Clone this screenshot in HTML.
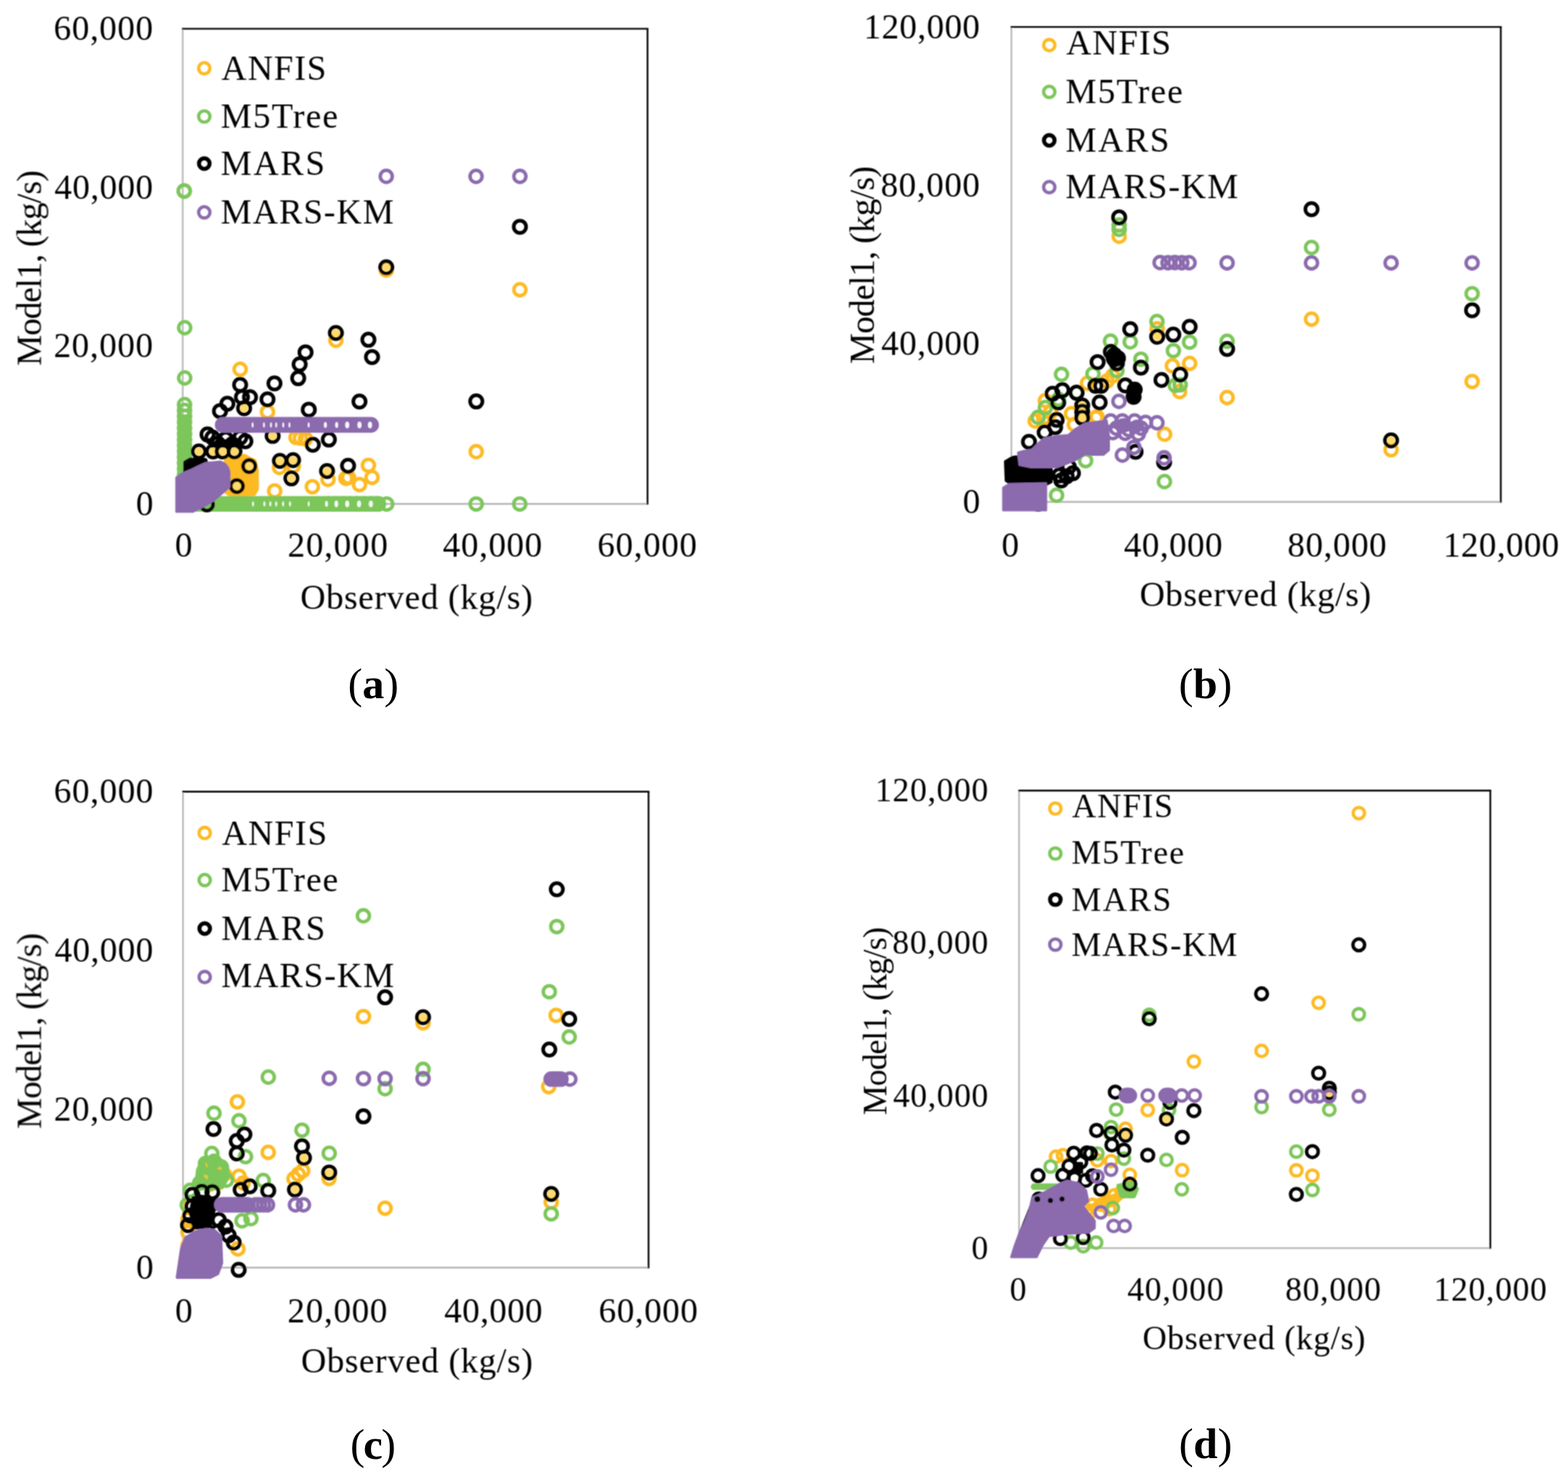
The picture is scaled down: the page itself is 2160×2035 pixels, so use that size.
<!DOCTYPE html>
<html><head><meta charset="utf-8"><title>Scatter plots</title><style>html,body{margin:0;padding:0;background:#fff;width:2160px;height:2035px;overflow:hidden}svg{display:block}</style></head><body>
<svg xmlns="http://www.w3.org/2000/svg" width="2160" height="2035" viewBox="0 0 2160 2035">
<rect width="2160" height="2035" fill="#fff"/>
<defs><filter id="soft" x="0" y="0" width="2160" height="2035" filterUnits="userSpaceOnUse"><feConvolveMatrix order="3" kernelMatrix="1 2 1 2 4 2 1 2 1" divisor="16" edgeMode="none" preserveAlpha="false"/></filter></defs>
<g font-family="Liberation Serif, Times New Roman, serif" fill="#000" filter="url(#soft)">
<line x1="251.7" y1="39.6" x2="251.7" y2="694.3" stroke="#B4B4B4" stroke-width="2.2"/>
<line x1="251.7" y1="694.3" x2="892.0" y2="694.3" stroke="#B4B4B4" stroke-width="2.4"/>
<line x1="250.7" y1="39.6" x2="893.2" y2="39.6" stroke="#000" stroke-width="2.4"/>
<line x1="892.0" y1="39.6" x2="892.0" y2="695.3" stroke="#000" stroke-width="2.4"/>
<circle cx="462.7" cy="468.8" r="8.30" fill="none" stroke="#FDBA21" stroke-width="4.80"/>
<circle cx="532.1" cy="372.0" r="8.30" fill="none" stroke="#FDBA21" stroke-width="4.80"/>
<circle cx="716.2" cy="399.2" r="8.30" fill="none" stroke="#FDBA21" stroke-width="4.80"/>
<circle cx="330.8" cy="508.8" r="8.30" fill="none" stroke="#FDBA21" stroke-width="4.80"/>
<circle cx="368.5" cy="567.4" r="8.30" fill="none" stroke="#FDBA21" stroke-width="4.80"/>
<circle cx="656.0" cy="622.3" r="8.30" fill="none" stroke="#FDBA21" stroke-width="4.80"/>
<circle cx="507.5" cy="641.1" r="8.30" fill="none" stroke="#FDBA21" stroke-width="4.80"/>
<circle cx="480.1" cy="657.7" r="8.30" fill="none" stroke="#FDBA21" stroke-width="4.80"/>
<circle cx="512.5" cy="657.7" r="8.30" fill="none" stroke="#FDBA21" stroke-width="4.80"/>
<circle cx="495.2" cy="667.7" r="8.30" fill="none" stroke="#FDBA21" stroke-width="4.80"/>
<circle cx="407.8" cy="602.6" r="8.30" fill="none" stroke="#FDBA21" stroke-width="4.80"/>
<circle cx="420.8" cy="604.6" r="8.30" fill="none" stroke="#FDBA21" stroke-width="4.80"/>
<circle cx="413.8" cy="603.6" r="8.30" fill="none" stroke="#FDBA21" stroke-width="4.80"/>
<circle cx="378.4" cy="676.4" r="8.30" fill="none" stroke="#FDBA21" stroke-width="4.80"/>
<circle cx="430.3" cy="670.6" r="8.30" fill="none" stroke="#FDBA21" stroke-width="4.80"/>
<circle cx="451.9" cy="660.5" r="8.30" fill="none" stroke="#FDBA21" stroke-width="4.80"/>
<circle cx="476.4" cy="659.0" r="8.30" fill="none" stroke="#FDBA21" stroke-width="4.80"/>
<circle cx="345.2" cy="664.9" r="8.30" fill="none" stroke="#FDBA21" stroke-width="4.80"/>
<circle cx="385.0" cy="644.0" r="8.30" fill="none" stroke="#FDBA21" stroke-width="4.80"/>
<circle cx="404.0" cy="642.0" r="8.30" fill="none" stroke="#FDBA21" stroke-width="4.80"/>
<circle cx="342.6" cy="665.2" r="8.30" fill="none" stroke="#FDBA21" stroke-width="4.80"/>
<circle cx="318.0" cy="640.0" r="8.30" fill="none" stroke="#FDBA21" stroke-width="4.80"/>
<circle cx="335.0" cy="636.0" r="8.30" fill="none" stroke="#FDBA21" stroke-width="4.80"/>
<polygon points="311,632 325,630 340,630 351,635 354,648 354,674 350,681 318,682 311,678" fill="#FDBA21" stroke="#FDBA21" stroke-width="5" stroke-linejoin="round"/>
<rect x="247.0" y="575.0" width="14" height="115.0" rx="7.0" fill="#7CC65A"/>
<rect x="262.0" y="683.5" width="270.0" height="21.6" rx="10.8" fill="#7CC65A"/>
<circle cx="254.2" cy="557.5" r="8.30" fill="none" stroke="#7CC65A" stroke-width="4.80"/>
<circle cx="254.2" cy="565.5" r="8.30" fill="none" stroke="#7CC65A" stroke-width="4.80"/>
<circle cx="254.2" cy="573.6" r="8.30" fill="none" stroke="#7CC65A" stroke-width="4.80"/>
<circle cx="254.2" cy="581.6" r="8.30" fill="none" stroke="#7CC65A" stroke-width="4.80"/>
<circle cx="254.2" cy="589.7" r="8.30" fill="none" stroke="#7CC65A" stroke-width="4.80"/>
<circle cx="254.2" cy="597.7" r="8.30" fill="none" stroke="#7CC65A" stroke-width="4.80"/>
<circle cx="254.2" cy="605.8" r="8.30" fill="none" stroke="#7CC65A" stroke-width="4.80"/>
<circle cx="254.2" cy="613.8" r="8.30" fill="none" stroke="#7CC65A" stroke-width="4.80"/>
<circle cx="254.2" cy="621.9" r="8.30" fill="none" stroke="#7CC65A" stroke-width="4.80"/>
<circle cx="254.2" cy="629.9" r="8.30" fill="none" stroke="#7CC65A" stroke-width="4.80"/>
<circle cx="254.2" cy="638.0" r="8.30" fill="none" stroke="#7CC65A" stroke-width="4.80"/>
<circle cx="254.2" cy="646.0" r="8.30" fill="none" stroke="#7CC65A" stroke-width="4.80"/>
<circle cx="254.2" cy="654.1" r="8.30" fill="none" stroke="#7CC65A" stroke-width="4.80"/>
<circle cx="254.2" cy="662.1" r="8.30" fill="none" stroke="#7CC65A" stroke-width="4.80"/>
<circle cx="254.2" cy="670.2" r="8.30" fill="none" stroke="#7CC65A" stroke-width="4.80"/>
<circle cx="254.2" cy="678.2" r="8.30" fill="none" stroke="#7CC65A" stroke-width="4.80"/>
<circle cx="254.2" cy="686.3" r="8.30" fill="none" stroke="#7CC65A" stroke-width="4.80"/>
<circle cx="254.2" cy="694.3" r="8.30" fill="none" stroke="#7CC65A" stroke-width="4.80"/>
<circle cx="452.5" cy="694.3" r="8.30" fill="none" stroke="#7CC65A" stroke-width="4.80"/>
<circle cx="462.3" cy="694.3" r="8.30" fill="none" stroke="#7CC65A" stroke-width="4.80"/>
<circle cx="472.1" cy="694.3" r="8.30" fill="none" stroke="#7CC65A" stroke-width="4.80"/>
<circle cx="481.9" cy="694.3" r="8.30" fill="none" stroke="#7CC65A" stroke-width="4.80"/>
<circle cx="491.6" cy="694.3" r="8.30" fill="none" stroke="#7CC65A" stroke-width="4.80"/>
<circle cx="501.4" cy="694.3" r="8.30" fill="none" stroke="#7CC65A" stroke-width="4.80"/>
<circle cx="511.2" cy="694.3" r="8.30" fill="none" stroke="#7CC65A" stroke-width="4.80"/>
<circle cx="521.0" cy="694.3" r="8.30" fill="none" stroke="#7CC65A" stroke-width="4.80"/>
<circle cx="254.4" cy="451.5" r="8.30" fill="none" stroke="#7CC65A" stroke-width="4.80"/>
<circle cx="254.4" cy="520.7" r="8.30" fill="none" stroke="#7CC65A" stroke-width="4.80"/>
<circle cx="253.8" cy="262.9" r="8.30" fill="none" stroke="#7CC65A" stroke-width="4.80"/>
<circle cx="253.8" cy="263.5" r="8.30" fill="none" stroke="#7CC65A" stroke-width="4.80"/>
<circle cx="656.0" cy="694.4" r="8.30" fill="none" stroke="#7CC65A" stroke-width="4.80"/>
<circle cx="716.0" cy="694.4" r="8.30" fill="none" stroke="#7CC65A" stroke-width="4.80"/>
<circle cx="532.7" cy="694.4" r="8.30" fill="none" stroke="#7CC65A" stroke-width="4.80"/>
<polygon points="255,637 262,633 283,633.5 285,640 272,646 262,651 255,652" fill="#000000" stroke="#000000" stroke-width="5" stroke-linejoin="round"/>
<polygon points="300,608 330,606 334,614 300,616" fill="#000000" stroke="#000000" stroke-width="4" stroke-linejoin="round"/>
<circle cx="716.2" cy="312.4" r="8.50" fill="none" stroke="#000000" stroke-width="5.00"/>
<circle cx="420.9" cy="485.4" r="8.50" fill="none" stroke="#000000" stroke-width="5.00"/>
<circle cx="412.8" cy="502.0" r="8.50" fill="none" stroke="#000000" stroke-width="5.00"/>
<circle cx="410.8" cy="521.1" r="8.50" fill="none" stroke="#000000" stroke-width="5.00"/>
<circle cx="378.1" cy="528.2" r="8.50" fill="none" stroke="#000000" stroke-width="5.00"/>
<circle cx="330.8" cy="530.2" r="8.50" fill="none" stroke="#000000" stroke-width="5.00"/>
<circle cx="333.3" cy="547.3" r="8.50" fill="none" stroke="#000000" stroke-width="5.00"/>
<circle cx="344.4" cy="547.3" r="8.50" fill="none" stroke="#000000" stroke-width="5.00"/>
<circle cx="368.5" cy="550.3" r="8.50" fill="none" stroke="#000000" stroke-width="5.00"/>
<circle cx="313.2" cy="556.3" r="8.50" fill="none" stroke="#000000" stroke-width="5.00"/>
<circle cx="303.1" cy="566.4" r="8.50" fill="none" stroke="#000000" stroke-width="5.00"/>
<circle cx="425.4" cy="564.4" r="8.50" fill="none" stroke="#000000" stroke-width="5.00"/>
<circle cx="507.5" cy="468.1" r="8.50" fill="none" stroke="#000000" stroke-width="5.00"/>
<circle cx="512.5" cy="491.9" r="8.50" fill="none" stroke="#000000" stroke-width="5.00"/>
<circle cx="495.2" cy="553.2" r="8.50" fill="none" stroke="#000000" stroke-width="5.00"/>
<circle cx="656.1" cy="553.1" r="8.50" fill="none" stroke="#000000" stroke-width="5.00"/>
<circle cx="479.5" cy="641.8" r="8.50" fill="none" stroke="#000000" stroke-width="5.00"/>
<circle cx="430.9" cy="612.7" r="8.50" fill="none" stroke="#000000" stroke-width="5.00"/>
<circle cx="453.0" cy="605.6" r="8.50" fill="none" stroke="#000000" stroke-width="5.00"/>
<circle cx="285.9" cy="598.6" r="8.50" fill="none" stroke="#000000" stroke-width="5.00"/>
<circle cx="292.6" cy="602.7" r="8.50" fill="none" stroke="#000000" stroke-width="5.00"/>
<circle cx="311.0" cy="604.4" r="8.50" fill="none" stroke="#000000" stroke-width="5.00"/>
<circle cx="331.0" cy="602.7" r="8.50" fill="none" stroke="#000000" stroke-width="5.00"/>
<circle cx="338.0" cy="608.0" r="8.50" fill="none" stroke="#000000" stroke-width="5.00"/>
<circle cx="300.0" cy="611.0" r="8.50" fill="none" stroke="#000000" stroke-width="5.00"/>
<circle cx="320.0" cy="612.0" r="8.50" fill="none" stroke="#000000" stroke-width="5.00"/>
<circle cx="285.0" cy="695.0" r="8.50" fill="none" stroke="#000000" stroke-width="5.00"/>
<circle cx="254.0" cy="668.0" r="8.50" fill="none" stroke="#000000" stroke-width="5.00"/>
<circle cx="462.7" cy="458.7" r="5.5" fill="#FFDA6A"/>
<circle cx="462.7" cy="458.7" r="8.50" fill="none" stroke="#000000" stroke-width="5.00"/>
<circle cx="532.1" cy="368.3" r="5.5" fill="#FFDA6A"/>
<circle cx="532.1" cy="368.3" r="8.50" fill="none" stroke="#000000" stroke-width="5.00"/>
<circle cx="336.3" cy="562.4" r="5.5" fill="#FFDA6A"/>
<circle cx="336.3" cy="562.4" r="8.50" fill="none" stroke="#000000" stroke-width="5.00"/>
<circle cx="375.6" cy="600.6" r="5.5" fill="#FFDA6A"/>
<circle cx="375.6" cy="600.6" r="8.50" fill="none" stroke="#000000" stroke-width="5.00"/>
<circle cx="385.6" cy="635.0" r="5.5" fill="#FFDA6A"/>
<circle cx="385.6" cy="635.0" r="8.50" fill="none" stroke="#000000" stroke-width="5.00"/>
<circle cx="403.7" cy="634.0" r="5.5" fill="#FFDA6A"/>
<circle cx="403.7" cy="634.0" r="8.50" fill="none" stroke="#000000" stroke-width="5.00"/>
<circle cx="401.4" cy="659.1" r="5.5" fill="#FFDA6A"/>
<circle cx="401.4" cy="659.1" r="8.50" fill="none" stroke="#000000" stroke-width="5.00"/>
<circle cx="450.5" cy="649.0" r="5.5" fill="#FFDA6A"/>
<circle cx="450.5" cy="649.0" r="8.50" fill="none" stroke="#000000" stroke-width="5.00"/>
<circle cx="343.3" cy="642.3" r="5.5" fill="#FFDA6A"/>
<circle cx="343.3" cy="642.3" r="8.50" fill="none" stroke="#000000" stroke-width="5.00"/>
<circle cx="326.3" cy="669.8" r="5.5" fill="#FFDA6A"/>
<circle cx="326.3" cy="669.8" r="8.50" fill="none" stroke="#000000" stroke-width="5.00"/>
<circle cx="274.0" cy="622.0" r="5.5" fill="#FFDA6A"/>
<circle cx="274.0" cy="622.0" r="8.50" fill="none" stroke="#000000" stroke-width="5.00"/>
<circle cx="293.6" cy="622.0" r="5.5" fill="#FFDA6A"/>
<circle cx="293.6" cy="622.0" r="8.50" fill="none" stroke="#000000" stroke-width="5.00"/>
<circle cx="306.7" cy="622.0" r="5.5" fill="#FFDA6A"/>
<circle cx="306.7" cy="622.0" r="8.50" fill="none" stroke="#000000" stroke-width="5.00"/>
<circle cx="323.0" cy="622.0" r="5.5" fill="#FFDA6A"/>
<circle cx="323.0" cy="622.0" r="8.50" fill="none" stroke="#000000" stroke-width="5.00"/>
<rect x="296.0" y="574.6" width="226.0" height="21.6" rx="10.8" fill="#8B6BAE"/>
<polygon points="243,705 243,658 250,653 262,648 272,643 283,638 304,636 310,639 314,644 316,650 316,671 310,676 295,689 286,695 276,700 266,705" fill="#8B6BAE" stroke="#8B6BAE" stroke-width="3" stroke-linejoin="round"/>
<circle cx="532.1" cy="243.0" r="8.30" fill="none" stroke="#8B6BAE" stroke-width="4.80"/>
<circle cx="655.8" cy="243.0" r="8.30" fill="none" stroke="#8B6BAE" stroke-width="4.80"/>
<circle cx="716.2" cy="243.0" r="8.30" fill="none" stroke="#8B6BAE" stroke-width="4.80"/>
<ellipse cx="348" cy="585.4" rx="1.2" ry="3.5" fill="#fbf6ff"/>
<ellipse cx="363.6" cy="585.4" rx="1.2" ry="3.5" fill="#fbf6ff"/>
<ellipse cx="373.3" cy="585.4" rx="1.2" ry="3.5" fill="#fbf6ff"/>
<ellipse cx="380.5" cy="585.4" rx="1.2" ry="3.5" fill="#fbf6ff"/>
<ellipse cx="390.2" cy="585.4" rx="1.2" ry="3.5" fill="#fbf6ff"/>
<ellipse cx="398.7" cy="585.4" rx="1.2" ry="3.5" fill="#fbf6ff"/>
<ellipse cx="425.2" cy="585.4" rx="1.2" ry="3.5" fill="#fbf6ff"/>
<ellipse cx="448.2" cy="585.4" rx="2" ry="4" fill="#fbf6ff"/>
<ellipse cx="463.8" cy="585.4" rx="2" ry="4" fill="#fbf6ff"/>
<ellipse cx="478.3" cy="585.4" rx="2.8" ry="4.5" fill="#fbf6ff"/>
<ellipse cx="495.2" cy="585.4" rx="2.8" ry="4.5" fill="#fbf6ff"/>
<ellipse cx="509.7" cy="585.4" rx="2.8" ry="4.5" fill="#fbf6ff"/>
<ellipse cx="348.6" cy="694.3" rx="1.3" ry="3.5" fill="#f4faf0"/>
<ellipse cx="364.2" cy="694.3" rx="1.3" ry="3.5" fill="#f4faf0"/>
<ellipse cx="372.4" cy="694.3" rx="1.3" ry="3.5" fill="#f4faf0"/>
<ellipse cx="380.5" cy="694.3" rx="1.3" ry="3.5" fill="#f4faf0"/>
<ellipse cx="390" cy="694.3" rx="1.3" ry="3.5" fill="#f4faf0"/>
<ellipse cx="399.5" cy="694.3" rx="1.3" ry="3.5" fill="#f4faf0"/>
<ellipse cx="425.3" cy="694.3" rx="1.3" ry="3.5" fill="#f4faf0"/>
<ellipse cx="449.8" cy="694.3" rx="2" ry="4" fill="#f4faf0"/>
<ellipse cx="463.3" cy="694.3" rx="2.5" ry="4.5" fill="#f4faf0"/>
<ellipse cx="478.3" cy="694.3" rx="2.8" ry="4.5" fill="#f4faf0"/>
<ellipse cx="494.6" cy="694.3" rx="2.8" ry="4.5" fill="#f4faf0"/>
<ellipse cx="510.9" cy="694.3" rx="2.8" ry="4.5" fill="#f4faf0"/>
<text x="187.17" y="710.00" font-size="48" letter-spacing="0.000">0</text>
<text x="73.89" y="491.77" font-size="48" letter-spacing="0.988">20,000</text>
<text x="75.06" y="273.53" font-size="48" letter-spacing="0.753">40,000</text>
<text x="73.94" y="55.30" font-size="48" letter-spacing="0.978">60,000</text>
<text x="241.07" y="767.30" font-size="48" letter-spacing="0.000">0</text>
<text x="396.19" y="767.30" font-size="48" letter-spacing="1.188">20,000</text>
<text x="610.06" y="767.30" font-size="48" letter-spacing="0.953">40,000</text>
<text x="823.04" y="767.30" font-size="48" letter-spacing="0.978">60,000</text>
<text x="413.63" y="839.20" font-size="48" letter-spacing="0.868">Observed (kg/s)</text>
<text transform="translate(56.50,503.98) rotate(-90)" x="0" y="0" font-size="48" letter-spacing="-1.224">Model1, (kg/s)</text>
<circle cx="281.4" cy="94.1" r="7.80" fill="none" stroke="#FDBA21" stroke-width="4.60"/>
<text x="305.03" y="110.00" font-size="48" letter-spacing="1.461">ANFIS</text>
<circle cx="281.4" cy="160.5" r="7.80" fill="none" stroke="#7CC65A" stroke-width="4.60"/>
<text x="304.12" y="176.40" font-size="48" letter-spacing="1.691">M5Tree</text>
<circle cx="281.4" cy="225.4" r="7.30" fill="none" stroke="#000000" stroke-width="5.60"/>
<text x="304.12" y="241.30" font-size="48" letter-spacing="2.402">MARS</text>
<circle cx="281.4" cy="292.6" r="7.80" fill="none" stroke="#8B6BAE" stroke-width="4.60"/>
<text x="304.12" y="308.40" font-size="48" letter-spacing="1.484">MARS-KM</text>
<line x1="1393.2" y1="37.1" x2="1393.2" y2="691.5" stroke="#B4B4B4" stroke-width="2.2"/>
<line x1="1393.2" y1="691.5" x2="2067.4" y2="691.5" stroke="#B4B4B4" stroke-width="2.4"/>
<line x1="1392.2" y1="37.1" x2="2068.6" y2="37.1" stroke="#000" stroke-width="2.4"/>
<line x1="2067.4" y1="37.1" x2="2067.4" y2="692.5" stroke="#000" stroke-width="2.4"/>
<circle cx="1541.7" cy="325.5" r="8.30" fill="none" stroke="#FDBA21" stroke-width="4.80"/>
<circle cx="1806.7" cy="439.7" r="8.30" fill="none" stroke="#FDBA21" stroke-width="4.80"/>
<circle cx="2027.9" cy="525.6" r="8.30" fill="none" stroke="#FDBA21" stroke-width="4.80"/>
<circle cx="1916.3" cy="619.6" r="8.30" fill="none" stroke="#FDBA21" stroke-width="4.80"/>
<circle cx="1638.8" cy="500.7" r="8.30" fill="none" stroke="#FDBA21" stroke-width="4.80"/>
<circle cx="1615.0" cy="504.0" r="8.30" fill="none" stroke="#FDBA21" stroke-width="4.80"/>
<circle cx="1625.0" cy="539.5" r="8.30" fill="none" stroke="#FDBA21" stroke-width="4.80"/>
<circle cx="1690.4" cy="547.7" r="8.30" fill="none" stroke="#FDBA21" stroke-width="4.80"/>
<circle cx="1604.3" cy="598.3" r="8.30" fill="none" stroke="#FDBA21" stroke-width="4.80"/>
<circle cx="1476.0" cy="570.0" r="8.30" fill="none" stroke="#FDBA21" stroke-width="4.80"/>
<circle cx="1511.3" cy="574.2" r="8.30" fill="none" stroke="#FDBA21" stroke-width="4.80"/>
<circle cx="1439.4" cy="575.6" r="8.30" fill="none" stroke="#FDBA21" stroke-width="4.80"/>
<circle cx="1509.7" cy="575.6" r="8.30" fill="none" stroke="#FDBA21" stroke-width="4.80"/>
<circle cx="1532.8" cy="517.9" r="8.30" fill="none" stroke="#FDBA21" stroke-width="4.80"/>
<circle cx="1437.7" cy="575.6" r="8.30" fill="none" stroke="#FDBA21" stroke-width="4.80"/>
<circle cx="1594.1" cy="453.0" r="8.30" fill="none" stroke="#FDBA21" stroke-width="4.80"/>
<circle cx="1440.0" cy="552.0" r="8.30" fill="none" stroke="#FDBA21" stroke-width="4.80"/>
<circle cx="1447.0" cy="568.0" r="8.30" fill="none" stroke="#FDBA21" stroke-width="4.80"/>
<circle cx="1426.0" cy="580.0" r="8.30" fill="none" stroke="#FDBA21" stroke-width="4.80"/>
<circle cx="1498.0" cy="528.0" r="8.30" fill="none" stroke="#FDBA21" stroke-width="4.80"/>
<circle cx="1525.0" cy="525.0" r="8.30" fill="none" stroke="#FDBA21" stroke-width="4.80"/>
<circle cx="1480.0" cy="585.0" r="8.30" fill="none" stroke="#FDBA21" stroke-width="4.80"/>
<circle cx="1541.7" cy="310.0" r="8.30" fill="none" stroke="#7CC65A" stroke-width="4.80"/>
<circle cx="1541.7" cy="316.0" r="8.30" fill="none" stroke="#7CC65A" stroke-width="4.80"/>
<circle cx="1806.7" cy="341.0" r="8.30" fill="none" stroke="#7CC65A" stroke-width="4.80"/>
<circle cx="2027.9" cy="404.6" r="8.30" fill="none" stroke="#7CC65A" stroke-width="4.80"/>
<circle cx="1593.8" cy="443.0" r="8.30" fill="none" stroke="#7CC65A" stroke-width="4.80"/>
<circle cx="1529.8" cy="470.0" r="8.30" fill="none" stroke="#7CC65A" stroke-width="4.80"/>
<circle cx="1557.0" cy="471.0" r="8.30" fill="none" stroke="#7CC65A" stroke-width="4.80"/>
<circle cx="1638.8" cy="471.4" r="8.30" fill="none" stroke="#7CC65A" stroke-width="4.80"/>
<circle cx="1616.4" cy="483.1" r="8.30" fill="none" stroke="#7CC65A" stroke-width="4.80"/>
<circle cx="1690.4" cy="470.2" r="8.30" fill="none" stroke="#7CC65A" stroke-width="4.80"/>
<circle cx="1625.8" cy="530.1" r="8.30" fill="none" stroke="#7CC65A" stroke-width="4.80"/>
<circle cx="1571.7" cy="494.9" r="8.30" fill="none" stroke="#7CC65A" stroke-width="4.80"/>
<circle cx="1538.6" cy="510.7" r="8.30" fill="none" stroke="#7CC65A" stroke-width="4.80"/>
<circle cx="1462.3" cy="515.8" r="8.30" fill="none" stroke="#7CC65A" stroke-width="4.80"/>
<circle cx="1505.6" cy="515.1" r="8.30" fill="none" stroke="#7CC65A" stroke-width="4.80"/>
<circle cx="1440.1" cy="561.5" r="8.30" fill="none" stroke="#7CC65A" stroke-width="4.80"/>
<circle cx="1495.5" cy="634.6" r="8.30" fill="none" stroke="#7CC65A" stroke-width="4.80"/>
<circle cx="1455.5" cy="682.3" r="8.30" fill="none" stroke="#7CC65A" stroke-width="4.80"/>
<circle cx="1604.1" cy="663.5" r="8.30" fill="none" stroke="#7CC65A" stroke-width="4.80"/>
<circle cx="1458.0" cy="550.0" r="8.30" fill="none" stroke="#7CC65A" stroke-width="4.80"/>
<circle cx="1483.0" cy="541.0" r="8.30" fill="none" stroke="#7CC65A" stroke-width="4.80"/>
<circle cx="1430.0" cy="575.0" r="8.30" fill="none" stroke="#7CC65A" stroke-width="4.80"/>
<circle cx="1619.0" cy="531.0" r="8.30" fill="none" stroke="#7CC65A" stroke-width="4.80"/>
<polygon points="1385,636 1395,630 1405,629 1420,632 1440,640 1448,645 1448,664 1440,668 1420,667 1395,668 1386,662" fill="#000000" stroke="#000000" stroke-width="4" stroke-linejoin="round"/>
<ellipse cx="1535" cy="492" rx="12" ry="14" fill="#000000"/>
<ellipse cx="1562" cy="542" rx="10" ry="14" fill="#000000"/>
<circle cx="1541.7" cy="299.4" r="8.50" fill="none" stroke="#000000" stroke-width="5.00"/>
<circle cx="1806.7" cy="288.2" r="8.50" fill="none" stroke="#000000" stroke-width="5.00"/>
<circle cx="2027.9" cy="427.4" r="8.50" fill="none" stroke="#000000" stroke-width="5.00"/>
<circle cx="1557.0" cy="453.6" r="8.50" fill="none" stroke="#000000" stroke-width="5.00"/>
<circle cx="1616.3" cy="461.1" r="8.50" fill="none" stroke="#000000" stroke-width="5.00"/>
<circle cx="1638.8" cy="450.2" r="8.50" fill="none" stroke="#000000" stroke-width="5.00"/>
<circle cx="1625.8" cy="516.0" r="8.50" fill="none" stroke="#000000" stroke-width="5.00"/>
<circle cx="1600.0" cy="523.5" r="8.50" fill="none" stroke="#000000" stroke-width="5.00"/>
<circle cx="1512.0" cy="498.9" r="8.50" fill="none" stroke="#000000" stroke-width="5.00"/>
<circle cx="1530.3" cy="484.8" r="8.50" fill="none" stroke="#000000" stroke-width="5.00"/>
<circle cx="1540.0" cy="493.4" r="8.50" fill="none" stroke="#000000" stroke-width="5.00"/>
<circle cx="1538.6" cy="500.6" r="8.50" fill="none" stroke="#000000" stroke-width="5.00"/>
<circle cx="1571.7" cy="506.4" r="8.50" fill="none" stroke="#000000" stroke-width="5.00"/>
<circle cx="1509.0" cy="531.5" r="8.50" fill="none" stroke="#000000" stroke-width="5.00"/>
<circle cx="1517.0" cy="531.5" r="8.50" fill="none" stroke="#000000" stroke-width="5.00"/>
<circle cx="1514.8" cy="554.5" r="8.50" fill="none" stroke="#000000" stroke-width="5.00"/>
<circle cx="1450.0" cy="542.5" r="8.50" fill="none" stroke="#000000" stroke-width="5.00"/>
<circle cx="1463.4" cy="537.6" r="8.50" fill="none" stroke="#000000" stroke-width="5.00"/>
<circle cx="1483.1" cy="541.1" r="8.50" fill="none" stroke="#000000" stroke-width="5.00"/>
<circle cx="1457.7" cy="554.5" r="8.50" fill="none" stroke="#000000" stroke-width="5.00"/>
<circle cx="1455.6" cy="578.5" r="8.50" fill="none" stroke="#000000" stroke-width="5.00"/>
<circle cx="1550.1" cy="530.9" r="8.50" fill="none" stroke="#000000" stroke-width="5.00"/>
<circle cx="1563.1" cy="536.7" r="8.50" fill="none" stroke="#000000" stroke-width="5.00"/>
<circle cx="1561.6" cy="546.8" r="8.50" fill="none" stroke="#000000" stroke-width="5.00"/>
<circle cx="1453.5" cy="588.6" r="8.50" fill="none" stroke="#000000" stroke-width="5.00"/>
<circle cx="1439.1" cy="595.8" r="8.50" fill="none" stroke="#000000" stroke-width="5.00"/>
<circle cx="1417.5" cy="608.7" r="8.50" fill="none" stroke="#000000" stroke-width="5.00"/>
<circle cx="1564.3" cy="622.5" r="8.50" fill="none" stroke="#000000" stroke-width="5.00"/>
<circle cx="1472.3" cy="643.3" r="8.50" fill="none" stroke="#000000" stroke-width="5.00"/>
<circle cx="1459.3" cy="654.9" r="8.50" fill="none" stroke="#000000" stroke-width="5.00"/>
<circle cx="1469.4" cy="656.3" r="8.50" fill="none" stroke="#000000" stroke-width="5.00"/>
<circle cx="1690.4" cy="480.8" r="8.50" fill="none" stroke="#000000" stroke-width="5.00"/>
<circle cx="1455.0" cy="648.0" r="8.50" fill="none" stroke="#000000" stroke-width="5.00"/>
<circle cx="1478.0" cy="652.0" r="8.50" fill="none" stroke="#000000" stroke-width="5.00"/>
<circle cx="1462.0" cy="662.0" r="8.50" fill="none" stroke="#000000" stroke-width="5.00"/>
<circle cx="1430.0" cy="694.0" r="8.50" fill="none" stroke="#000000" stroke-width="5.00"/>
<circle cx="1603.6" cy="637.0" r="8.50" fill="none" stroke="#000000" stroke-width="5.00"/>
<circle cx="1594.1" cy="463.9" r="5.5" fill="#FFDA6A"/>
<circle cx="1594.1" cy="463.9" r="8.50" fill="none" stroke="#000000" stroke-width="5.00"/>
<circle cx="1916.3" cy="606.7" r="5.5" fill="#FFDA6A"/>
<circle cx="1916.3" cy="606.7" r="8.50" fill="none" stroke="#000000" stroke-width="5.00"/>
<circle cx="1490.8" cy="558.7" r="5.5" fill="#FFDA6A"/>
<circle cx="1490.8" cy="558.7" r="8.50" fill="none" stroke="#000000" stroke-width="5.00"/>
<circle cx="1490.8" cy="567.2" r="5.5" fill="#FFDA6A"/>
<circle cx="1490.8" cy="567.2" r="8.50" fill="none" stroke="#000000" stroke-width="5.00"/>
<circle cx="1490.8" cy="575.6" r="5.5" fill="#FFDA6A"/>
<circle cx="1490.8" cy="575.6" r="8.50" fill="none" stroke="#000000" stroke-width="5.00"/>
<polygon points="1382,703 1382,672 1390,667 1441,666 1441,703" fill="#8B6BAE" stroke="#8B6BAE" stroke-width="3" stroke-linejoin="round"/>
<polygon points="1403,624 1410,622 1422,620 1430,612 1438,605 1447,603 1460,601 1472,600 1481,592 1495,584 1510,582 1524,580 1527,600 1527,620 1520,626 1505,626 1495,625 1482,633 1470,638 1455,643 1420,643 1405,640" fill="#8B6BAE" stroke="#8B6BAE" stroke-width="4" stroke-linejoin="round"/>
<ellipse cx="1504" cy="603" rx="23" ry="22" fill="#8B6BAE"/>
<ellipse cx="1548" cy="586" rx="12" ry="10" fill="#8B6BAE"/>
<ellipse cx="1566" cy="587" rx="10" ry="9" fill="#8B6BAE"/>
<circle cx="1530.0" cy="580.0" r="8.30" fill="none" stroke="#8B6BAE" stroke-width="4.80"/>
<circle cx="1538.0" cy="590.0" r="8.30" fill="none" stroke="#8B6BAE" stroke-width="4.80"/>
<circle cx="1546.0" cy="580.0" r="8.30" fill="none" stroke="#8B6BAE" stroke-width="4.80"/>
<circle cx="1555.0" cy="592.0" r="8.30" fill="none" stroke="#8B6BAE" stroke-width="4.80"/>
<circle cx="1563.0" cy="580.0" r="8.30" fill="none" stroke="#8B6BAE" stroke-width="4.80"/>
<circle cx="1572.0" cy="590.0" r="8.30" fill="none" stroke="#8B6BAE" stroke-width="4.80"/>
<circle cx="1578.0" cy="582.0" r="8.30" fill="none" stroke="#8B6BAE" stroke-width="4.80"/>
<circle cx="1533.0" cy="596.0" r="8.30" fill="none" stroke="#8B6BAE" stroke-width="4.80"/>
<circle cx="1550.0" cy="597.0" r="8.30" fill="none" stroke="#8B6BAE" stroke-width="4.80"/>
<circle cx="1568.0" cy="598.0" r="8.30" fill="none" stroke="#8B6BAE" stroke-width="4.80"/>
<circle cx="1598.1" cy="361.8" r="8.30" fill="none" stroke="#8B6BAE" stroke-width="4.80"/>
<circle cx="1609.0" cy="362.0" r="8.30" fill="none" stroke="#8B6BAE" stroke-width="4.80"/>
<circle cx="1618.4" cy="361.8" r="8.30" fill="none" stroke="#8B6BAE" stroke-width="4.80"/>
<circle cx="1628.0" cy="362.0" r="8.30" fill="none" stroke="#8B6BAE" stroke-width="4.80"/>
<circle cx="1638.0" cy="362.0" r="8.30" fill="none" stroke="#8B6BAE" stroke-width="4.80"/>
<circle cx="1690.4" cy="362.2" r="8.30" fill="none" stroke="#8B6BAE" stroke-width="4.80"/>
<circle cx="1806.7" cy="362.2" r="8.30" fill="none" stroke="#8B6BAE" stroke-width="4.80"/>
<circle cx="1916.3" cy="362.2" r="8.30" fill="none" stroke="#8B6BAE" stroke-width="4.80"/>
<circle cx="2027.9" cy="362.2" r="8.30" fill="none" stroke="#8B6BAE" stroke-width="4.80"/>
<circle cx="1541.4" cy="553.0" r="8.30" fill="none" stroke="#8B6BAE" stroke-width="4.80"/>
<circle cx="1593.8" cy="582.5" r="8.30" fill="none" stroke="#8B6BAE" stroke-width="4.80"/>
<circle cx="1546.2" cy="627.0" r="8.30" fill="none" stroke="#8B6BAE" stroke-width="4.80"/>
<circle cx="1603.6" cy="630.8" r="8.30" fill="none" stroke="#8B6BAE" stroke-width="4.80"/>
<circle cx="1562.0" cy="616.4" r="8.30" fill="none" stroke="#8B6BAE" stroke-width="4.80"/>
<text x="1326.17" y="707.20" font-size="48" letter-spacing="0.000">0</text>
<text x="1214.06" y="489.07" font-size="48" letter-spacing="0.753">40,000</text>
<text x="1213.17" y="270.93" font-size="48" letter-spacing="0.931">80,000</text>
<text x="1189.78" y="52.80" font-size="48" letter-spacing="0.674">120,000</text>
<text x="1379.67" y="767.00" font-size="48" letter-spacing="0.000">0</text>
<text x="1548.36" y="767.00" font-size="48" letter-spacing="0.753">40,000</text>
<text x="1773.47" y="767.00" font-size="48" letter-spacing="0.931">80,000</text>
<text x="1987.93" y="767.00" font-size="48" letter-spacing="0.658">120,000</text>
<text x="1569.93" y="835.10" font-size="48" letter-spacing="0.783">Observed (kg/s)</text>
<text transform="translate(1203.80,501.38) rotate(-90)" x="0" y="0" font-size="48" letter-spacing="-0.970">Model1, (kg/s)</text>
<circle cx="1445.4" cy="62.2" r="7.80" fill="none" stroke="#FDBA21" stroke-width="4.60"/>
<text x="1468.73" y="75.10" font-size="48" letter-spacing="1.411">ANFIS</text>
<circle cx="1445.4" cy="126.6" r="7.80" fill="none" stroke="#7CC65A" stroke-width="4.60"/>
<text x="1467.82" y="141.90" font-size="48" letter-spacing="1.731">M5Tree</text>
<circle cx="1445.4" cy="193.4" r="7.30" fill="none" stroke="#000000" stroke-width="5.60"/>
<text x="1467.82" y="208.70" font-size="48" letter-spacing="2.235">MARS</text>
<circle cx="1445.4" cy="257.8" r="7.80" fill="none" stroke="#8B6BAE" stroke-width="4.60"/>
<text x="1467.82" y="273.10" font-size="48" letter-spacing="1.401">MARS-KM</text>
<line x1="252.1" y1="1090.7" x2="252.1" y2="1746.5" stroke="#B4B4B4" stroke-width="2.2"/>
<line x1="252.1" y1="1746.5" x2="893.4" y2="1746.5" stroke="#B4B4B4" stroke-width="2.4"/>
<line x1="251.1" y1="1090.7" x2="894.6" y2="1090.7" stroke="#000" stroke-width="2.4"/>
<line x1="893.4" y1="1090.7" x2="893.4" y2="1747.5" stroke="#000" stroke-width="2.4"/>
<circle cx="327.0" cy="1518.1" r="8.30" fill="none" stroke="#FDBA21" stroke-width="4.80"/>
<circle cx="369.5" cy="1587.7" r="8.30" fill="none" stroke="#FDBA21" stroke-width="4.80"/>
<circle cx="329.2" cy="1620.6" r="8.30" fill="none" stroke="#FDBA21" stroke-width="4.80"/>
<circle cx="417.0" cy="1613.0" r="8.30" fill="none" stroke="#FDBA21" stroke-width="4.80"/>
<circle cx="405.0" cy="1624.0" r="8.30" fill="none" stroke="#FDBA21" stroke-width="4.80"/>
<circle cx="411.0" cy="1618.0" r="8.30" fill="none" stroke="#FDBA21" stroke-width="4.80"/>
<circle cx="453.3" cy="1623.6" r="8.30" fill="none" stroke="#FDBA21" stroke-width="4.80"/>
<circle cx="500.7" cy="1400.6" r="8.30" fill="none" stroke="#FDBA21" stroke-width="4.80"/>
<circle cx="582.8" cy="1409.2" r="8.30" fill="none" stroke="#FDBA21" stroke-width="4.80"/>
<circle cx="766.1" cy="1398.9" r="8.30" fill="none" stroke="#FDBA21" stroke-width="4.80"/>
<circle cx="530.5" cy="1664.7" r="8.30" fill="none" stroke="#FDBA21" stroke-width="4.80"/>
<circle cx="759.3" cy="1656.2" r="8.30" fill="none" stroke="#FDBA21" stroke-width="4.80"/>
<circle cx="755.9" cy="1497.1" r="8.30" fill="none" stroke="#FDBA21" stroke-width="4.80"/>
<circle cx="327.7" cy="1720.7" r="8.30" fill="none" stroke="#FDBA21" stroke-width="4.80"/>
<circle cx="259.0" cy="1662.0" r="8.30" fill="none" stroke="#FDBA21" stroke-width="4.80"/>
<circle cx="259.0" cy="1680.0" r="8.30" fill="none" stroke="#FDBA21" stroke-width="4.80"/>
<circle cx="259.0" cy="1698.0" r="8.30" fill="none" stroke="#FDBA21" stroke-width="4.80"/>
<circle cx="259.0" cy="1716.0" r="8.30" fill="none" stroke="#FDBA21" stroke-width="4.80"/>
<circle cx="258.0" cy="1734.0" r="8.30" fill="none" stroke="#FDBA21" stroke-width="4.80"/>
<circle cx="257.0" cy="1750.0" r="8.30" fill="none" stroke="#FDBA21" stroke-width="4.80"/>
<circle cx="282.0" cy="1614.0" r="8.30" fill="none" stroke="#FDBA21" stroke-width="4.80"/>
<circle cx="294.0" cy="1611.0" r="8.30" fill="none" stroke="#FDBA21" stroke-width="4.80"/>
<circle cx="309.0" cy="1618.0" r="8.30" fill="none" stroke="#FDBA21" stroke-width="4.80"/>
<circle cx="288.0" cy="1632.0" r="8.30" fill="none" stroke="#FDBA21" stroke-width="4.80"/>
<circle cx="300.0" cy="1630.0" r="8.30" fill="none" stroke="#FDBA21" stroke-width="4.80"/>
<circle cx="335.0" cy="1630.0" r="8.30" fill="none" stroke="#FDBA21" stroke-width="4.80"/>
<polygon points="280,1600 298,1596 310,1604 313,1620 306,1634 285,1638 272,1630 274,1612" fill="#7CC65A" stroke="#7CC65A" stroke-width="8" stroke-linejoin="round"/>
<circle cx="288" cy="1604" r="5" fill="#e9c52c"/>
<circle cx="301" cy="1611" r="4" fill="#f0c830"/>
<circle cx="283" cy="1622" r="3.5" fill="#d8d040"/>
<circle cx="369.6" cy="1484.0" r="8.30" fill="none" stroke="#7CC65A" stroke-width="4.80"/>
<circle cx="294.8" cy="1533.8" r="8.30" fill="none" stroke="#7CC65A" stroke-width="4.80"/>
<circle cx="329.2" cy="1544.3" r="8.30" fill="none" stroke="#7CC65A" stroke-width="4.80"/>
<circle cx="338.2" cy="1593.6" r="8.30" fill="none" stroke="#7CC65A" stroke-width="4.80"/>
<circle cx="416.0" cy="1557.1" r="8.30" fill="none" stroke="#7CC65A" stroke-width="4.80"/>
<circle cx="453.5" cy="1589.0" r="8.30" fill="none" stroke="#7CC65A" stroke-width="4.80"/>
<circle cx="291.8" cy="1589.2" r="8.30" fill="none" stroke="#7CC65A" stroke-width="4.80"/>
<circle cx="362.6" cy="1626.5" r="8.30" fill="none" stroke="#7CC65A" stroke-width="4.80"/>
<circle cx="333.5" cy="1682.0" r="8.30" fill="none" stroke="#7CC65A" stroke-width="4.80"/>
<circle cx="345.7" cy="1679.0" r="8.30" fill="none" stroke="#7CC65A" stroke-width="4.80"/>
<circle cx="500.6" cy="1261.8" r="8.30" fill="none" stroke="#7CC65A" stroke-width="4.80"/>
<circle cx="767.0" cy="1276.6" r="8.30" fill="none" stroke="#7CC65A" stroke-width="4.80"/>
<circle cx="756.7" cy="1366.4" r="8.30" fill="none" stroke="#7CC65A" stroke-width="4.80"/>
<circle cx="784.1" cy="1428.8" r="8.30" fill="none" stroke="#7CC65A" stroke-width="4.80"/>
<circle cx="582.8" cy="1473.3" r="8.30" fill="none" stroke="#7CC65A" stroke-width="4.80"/>
<circle cx="530.5" cy="1500.0" r="8.30" fill="none" stroke="#7CC65A" stroke-width="4.80"/>
<circle cx="759.3" cy="1672.4" r="8.30" fill="none" stroke="#7CC65A" stroke-width="4.80"/>
<circle cx="283.0" cy="1603.0" r="8.30" fill="none" stroke="#7CC65A" stroke-width="4.80"/>
<circle cx="295.0" cy="1600.0" r="8.30" fill="none" stroke="#7CC65A" stroke-width="4.80"/>
<circle cx="305.0" cy="1608.0" r="8.30" fill="none" stroke="#7CC65A" stroke-width="4.80"/>
<circle cx="285.0" cy="1622.0" r="8.30" fill="none" stroke="#7CC65A" stroke-width="4.80"/>
<circle cx="298.0" cy="1621.0" r="8.30" fill="none" stroke="#7CC65A" stroke-width="4.80"/>
<circle cx="312.0" cy="1626.0" r="8.30" fill="none" stroke="#7CC65A" stroke-width="4.80"/>
<circle cx="275.0" cy="1630.0" r="8.30" fill="none" stroke="#7CC65A" stroke-width="4.80"/>
<circle cx="262.0" cy="1640.0" r="8.30" fill="none" stroke="#7CC65A" stroke-width="4.80"/>
<circle cx="258.0" cy="1660.0" r="8.30" fill="none" stroke="#7CC65A" stroke-width="4.80"/>
<polygon points="266,1650 288,1648 296,1662 290,1690 270,1692 262,1672" fill="#000000" stroke="#000000" stroke-width="4" stroke-linejoin="round"/>
<circle cx="294.1" cy="1555.5" r="8.50" fill="none" stroke="#000000" stroke-width="5.00"/>
<circle cx="336.7" cy="1563.0" r="8.50" fill="none" stroke="#000000" stroke-width="5.00"/>
<circle cx="326.2" cy="1572.0" r="8.50" fill="none" stroke="#000000" stroke-width="5.00"/>
<circle cx="326.2" cy="1589.2" r="8.50" fill="none" stroke="#000000" stroke-width="5.00"/>
<circle cx="416.0" cy="1579.3" r="8.50" fill="none" stroke="#000000" stroke-width="5.00"/>
<circle cx="344.0" cy="1634.5" r="8.50" fill="none" stroke="#000000" stroke-width="5.00"/>
<circle cx="331.5" cy="1639.2" r="8.50" fill="none" stroke="#000000" stroke-width="5.00"/>
<circle cx="369.5" cy="1640.4" r="8.50" fill="none" stroke="#000000" stroke-width="5.00"/>
<circle cx="767.0" cy="1225.3" r="8.50" fill="none" stroke="#000000" stroke-width="5.00"/>
<circle cx="530.5" cy="1374.1" r="8.50" fill="none" stroke="#000000" stroke-width="5.00"/>
<circle cx="784.1" cy="1404.0" r="8.50" fill="none" stroke="#000000" stroke-width="5.00"/>
<circle cx="756.7" cy="1446.0" r="8.50" fill="none" stroke="#000000" stroke-width="5.00"/>
<circle cx="500.7" cy="1538.1" r="8.50" fill="none" stroke="#000000" stroke-width="5.00"/>
<circle cx="322.0" cy="1712.0" r="8.50" fill="none" stroke="#000000" stroke-width="5.00"/>
<circle cx="328.8" cy="1749.6" r="8.50" fill="none" stroke="#000000" stroke-width="5.00"/>
<circle cx="265.0" cy="1646.0" r="8.50" fill="none" stroke="#000000" stroke-width="5.00"/>
<circle cx="278.0" cy="1642.0" r="8.50" fill="none" stroke="#000000" stroke-width="5.00"/>
<circle cx="292.5" cy="1642.6" r="8.50" fill="none" stroke="#000000" stroke-width="5.00"/>
<circle cx="265.0" cy="1662.0" r="8.50" fill="none" stroke="#000000" stroke-width="5.00"/>
<circle cx="276.0" cy="1657.0" r="8.50" fill="none" stroke="#000000" stroke-width="5.00"/>
<circle cx="290.0" cy="1660.0" r="8.50" fill="none" stroke="#000000" stroke-width="5.00"/>
<circle cx="259.0" cy="1688.0" r="8.50" fill="none" stroke="#000000" stroke-width="5.00"/>
<circle cx="272.5" cy="1681.0" r="8.50" fill="none" stroke="#000000" stroke-width="5.00"/>
<circle cx="285.0" cy="1677.0" r="8.50" fill="none" stroke="#000000" stroke-width="5.00"/>
<circle cx="301.5" cy="1681.0" r="8.50" fill="none" stroke="#000000" stroke-width="5.00"/>
<circle cx="310.6" cy="1690.0" r="8.50" fill="none" stroke="#000000" stroke-width="5.00"/>
<circle cx="262.0" cy="1675.0" r="8.50" fill="none" stroke="#000000" stroke-width="5.00"/>
<circle cx="300.0" cy="1697.0" r="8.50" fill="none" stroke="#000000" stroke-width="5.00"/>
<circle cx="315.0" cy="1702.0" r="8.50" fill="none" stroke="#000000" stroke-width="5.00"/>
<circle cx="418.8" cy="1595.3" r="5.5" fill="#FFDA6A"/>
<circle cx="418.8" cy="1595.3" r="8.50" fill="none" stroke="#000000" stroke-width="5.00"/>
<circle cx="453.5" cy="1615.4" r="5.5" fill="#FFDA6A"/>
<circle cx="453.5" cy="1615.4" r="8.50" fill="none" stroke="#000000" stroke-width="5.00"/>
<circle cx="406.3" cy="1639.0" r="5.5" fill="#FFDA6A"/>
<circle cx="406.3" cy="1639.0" r="8.50" fill="none" stroke="#000000" stroke-width="5.00"/>
<circle cx="582.8" cy="1401.5" r="5.5" fill="#FFDA6A"/>
<circle cx="582.8" cy="1401.5" r="8.50" fill="none" stroke="#000000" stroke-width="5.00"/>
<circle cx="759.3" cy="1645.0" r="5.5" fill="#FFDA6A"/>
<circle cx="759.3" cy="1645.0" r="8.50" fill="none" stroke="#000000" stroke-width="5.00"/>
<rect x="294.8" y="1649.2" width="57.2" height="21.6" rx="10.8" fill="#8B6BAE"/>
<rect x="748.5" y="1476.0" width="35.0" height="21.6" rx="10.8" fill="#8B6BAE"/>
<polygon points="244,1760 250,1720 256,1705 270,1697 283,1694 295,1695 304,1703 305.5,1740 300,1755 290,1760" fill="#8B6BAE" stroke="#8B6BAE" stroke-width="4" stroke-linejoin="round"/>
<circle cx="352.0" cy="1660.0" r="8.30" fill="none" stroke="#8B6BAE" stroke-width="4.80"/>
<circle cx="357.5" cy="1660.0" r="8.30" fill="none" stroke="#8B6BAE" stroke-width="4.80"/>
<circle cx="363.0" cy="1660.0" r="8.30" fill="none" stroke="#8B6BAE" stroke-width="4.80"/>
<circle cx="368.5" cy="1660.0" r="8.30" fill="none" stroke="#8B6BAE" stroke-width="4.80"/>
<circle cx="453.5" cy="1485.7" r="8.30" fill="none" stroke="#8B6BAE" stroke-width="4.80"/>
<circle cx="500.7" cy="1486.1" r="8.30" fill="none" stroke="#8B6BAE" stroke-width="4.80"/>
<circle cx="530.5" cy="1486.1" r="8.30" fill="none" stroke="#8B6BAE" stroke-width="4.80"/>
<circle cx="582.8" cy="1486.1" r="8.30" fill="none" stroke="#8B6BAE" stroke-width="4.80"/>
<circle cx="785.0" cy="1486.8" r="8.30" fill="none" stroke="#8B6BAE" stroke-width="4.80"/>
<circle cx="407.0" cy="1660.0" r="8.30" fill="none" stroke="#8B6BAE" stroke-width="4.80"/>
<circle cx="418.0" cy="1660.0" r="8.30" fill="none" stroke="#8B6BAE" stroke-width="4.80"/>
<text x="187.47" y="1762.20" font-size="48" letter-spacing="0.000">0</text>
<text x="74.19" y="1543.60" font-size="48" letter-spacing="0.988">20,000</text>
<text x="75.36" y="1325.00" font-size="48" letter-spacing="0.753">40,000</text>
<text x="74.24" y="1106.40" font-size="48" letter-spacing="0.978">60,000</text>
<text x="241.32" y="1822.00" font-size="48" letter-spacing="0.000">0</text>
<text x="396.09" y="1822.00" font-size="48" letter-spacing="1.107">20,000</text>
<text x="612.11" y="1822.00" font-size="48" letter-spacing="0.653">40,000</text>
<text x="824.79" y="1822.00" font-size="48" letter-spacing="0.878">60,000</text>
<text x="414.73" y="1890.70" font-size="48" letter-spacing="0.811">Observed (kg/s)</text>
<text transform="translate(56.50,1555.38) rotate(-90)" x="0" y="0" font-size="48" letter-spacing="-1.178">Model1, (kg/s)</text>
<circle cx="282.0" cy="1147.7" r="7.80" fill="none" stroke="#FDBA21" stroke-width="4.60"/>
<text x="305.73" y="1163.50" font-size="48" letter-spacing="1.486">ANFIS</text>
<circle cx="282.0" cy="1212.6" r="7.80" fill="none" stroke="#7CC65A" stroke-width="4.60"/>
<text x="304.82" y="1227.80" font-size="48" letter-spacing="1.631">M5Tree</text>
<circle cx="282.0" cy="1279.4" r="7.30" fill="none" stroke="#000000" stroke-width="5.60"/>
<text x="304.82" y="1294.60" font-size="48" letter-spacing="2.368">MARS</text>
<circle cx="282.0" cy="1346.2" r="7.80" fill="none" stroke="#8B6BAE" stroke-width="4.60"/>
<text x="304.82" y="1359.80" font-size="48" letter-spacing="1.451">MARS-KM</text>
<line x1="1403.8" y1="1089.2" x2="1403.8" y2="1719.6" stroke="#B4B4B4" stroke-width="2.2"/>
<line x1="1403.8" y1="1719.6" x2="2053.0" y2="1719.6" stroke="#B4B4B4" stroke-width="2.4"/>
<line x1="1402.8" y1="1089.2" x2="2054.2" y2="1089.2" stroke="#000" stroke-width="2.4"/>
<line x1="2053.0" y1="1089.2" x2="2053.0" y2="1720.6" stroke="#000" stroke-width="2.4"/>
<circle cx="1871.9" cy="1120.3" r="7.89" fill="none" stroke="#FDBA21" stroke-width="4.56"/>
<circle cx="1816.5" cy="1381.6" r="7.89" fill="none" stroke="#FDBA21" stroke-width="4.56"/>
<circle cx="1737.9" cy="1447.9" r="7.89" fill="none" stroke="#FDBA21" stroke-width="4.56"/>
<circle cx="1644.6" cy="1462.6" r="7.89" fill="none" stroke="#FDBA21" stroke-width="4.56"/>
<circle cx="1785.8" cy="1612.5" r="7.89" fill="none" stroke="#FDBA21" stroke-width="4.56"/>
<circle cx="1807.9" cy="1619.8" r="7.89" fill="none" stroke="#FDBA21" stroke-width="4.56"/>
<circle cx="1628.4" cy="1612.2" r="7.89" fill="none" stroke="#FDBA21" stroke-width="4.56"/>
<circle cx="1581.1" cy="1529.3" r="7.89" fill="none" stroke="#FDBA21" stroke-width="4.56"/>
<circle cx="1550.5" cy="1555.2" r="7.89" fill="none" stroke="#FDBA21" stroke-width="4.56"/>
<circle cx="1556.4" cy="1618.6" r="7.89" fill="none" stroke="#FDBA21" stroke-width="4.56"/>
<circle cx="1511.7" cy="1598.6" r="7.89" fill="none" stroke="#FDBA21" stroke-width="4.56"/>
<circle cx="1530.5" cy="1599.8" r="7.89" fill="none" stroke="#FDBA21" stroke-width="4.56"/>
<circle cx="1464.3" cy="1591.7" r="7.89" fill="none" stroke="#FDBA21" stroke-width="4.56"/>
<circle cx="1454.8" cy="1593.7" r="7.89" fill="none" stroke="#FDBA21" stroke-width="4.56"/>
<circle cx="1497.4" cy="1667.0" r="7.89" fill="none" stroke="#FDBA21" stroke-width="4.56"/>
<circle cx="1535.2" cy="1646.8" r="7.89" fill="none" stroke="#FDBA21" stroke-width="4.56"/>
<circle cx="1516.4" cy="1659.7" r="7.89" fill="none" stroke="#FDBA21" stroke-width="4.56"/>
<circle cx="1505.0" cy="1660.0" r="7.89" fill="none" stroke="#FDBA21" stroke-width="4.56"/>
<circle cx="1525.0" cy="1655.0" r="7.89" fill="none" stroke="#FDBA21" stroke-width="4.56"/>
<circle cx="1545.0" cy="1642.0" r="7.89" fill="none" stroke="#FDBA21" stroke-width="4.56"/>
<circle cx="1500.0" cy="1672.0" r="7.89" fill="none" stroke="#FDBA21" stroke-width="4.56"/>
<circle cx="1528.0" cy="1666.0" r="7.89" fill="none" stroke="#FDBA21" stroke-width="4.56"/>
<polygon points="1505,1660 1520,1652 1540,1645 1548,1648 1535,1660 1515,1665" fill="#FDBA21" stroke="#FDBA21" stroke-width="4" stroke-linejoin="round"/>
<polygon points="1541,1634 1558,1630 1566,1638 1562,1648 1545,1648" fill="#7CC65A" stroke="#7CC65A" stroke-width="6" stroke-linejoin="round"/>
<rect x="1420.0" y="1630.5" width="42.0" height="9" rx="4.5" fill="#7CC65A"/>
<circle cx="1871.8" cy="1397.5" r="7.89" fill="none" stroke="#7CC65A" stroke-width="4.56"/>
<circle cx="1737.9" cy="1525.3" r="7.89" fill="none" stroke="#7CC65A" stroke-width="4.56"/>
<circle cx="1831.2" cy="1529.0" r="7.89" fill="none" stroke="#7CC65A" stroke-width="4.56"/>
<circle cx="1785.8" cy="1586.7" r="7.89" fill="none" stroke="#7CC65A" stroke-width="4.56"/>
<circle cx="1807.9" cy="1639.5" r="7.89" fill="none" stroke="#7CC65A" stroke-width="4.56"/>
<circle cx="1628.0" cy="1638.6" r="7.89" fill="none" stroke="#7CC65A" stroke-width="4.56"/>
<circle cx="1606.9" cy="1598.1" r="7.89" fill="none" stroke="#7CC65A" stroke-width="4.56"/>
<circle cx="1537.6" cy="1528.8" r="7.89" fill="none" stroke="#7CC65A" stroke-width="4.56"/>
<circle cx="1610.4" cy="1529.3" r="7.89" fill="none" stroke="#7CC65A" stroke-width="4.56"/>
<circle cx="1530.5" cy="1552.8" r="7.89" fill="none" stroke="#7CC65A" stroke-width="4.56"/>
<circle cx="1548.2" cy="1596.3" r="7.89" fill="none" stroke="#7CC65A" stroke-width="4.56"/>
<circle cx="1511.7" cy="1589.3" r="7.89" fill="none" stroke="#7CC65A" stroke-width="4.56"/>
<circle cx="1447.3" cy="1607.2" r="7.89" fill="none" stroke="#7CC65A" stroke-width="4.56"/>
<circle cx="1532.9" cy="1664.4" r="7.89" fill="none" stroke="#7CC65A" stroke-width="4.56"/>
<circle cx="1492.2" cy="1717.0" r="7.89" fill="none" stroke="#7CC65A" stroke-width="4.56"/>
<circle cx="1530.1" cy="1562.3" r="7.89" fill="none" stroke="#7CC65A" stroke-width="4.56"/>
<circle cx="1475.0" cy="1712.0" r="7.89" fill="none" stroke="#7CC65A" stroke-width="4.56"/>
<circle cx="1510.0" cy="1712.0" r="7.89" fill="none" stroke="#7CC65A" stroke-width="4.56"/>
<circle cx="1583.1" cy="1398.2" r="7.89" fill="none" stroke="#7CC65A" stroke-width="4.56"/>
<circle cx="1583.1" cy="1403.5" r="7.89" fill="none" stroke="#7CC65A" stroke-width="4.56"/>
<polygon points="1480,1603 1490,1603 1490,1615 1480,1615" fill="#000000" stroke="#000000" stroke-width="4" stroke-linejoin="round"/>
<polygon points="1403,1702 1411,1682 1419,1662 1426,1660 1417,1688 1409,1706" fill="#000000" stroke="#000000" stroke-width="2" stroke-linejoin="round"/>
<circle cx="1871.8" cy="1301.8" r="8.07" fill="none" stroke="#000000" stroke-width="4.75"/>
<circle cx="1737.9" cy="1369.3" r="8.07" fill="none" stroke="#000000" stroke-width="4.75"/>
<circle cx="1816.5" cy="1478.6" r="8.07" fill="none" stroke="#000000" stroke-width="4.75"/>
<circle cx="1831.2" cy="1499.5" r="8.07" fill="none" stroke="#000000" stroke-width="4.75"/>
<circle cx="1644.6" cy="1530.2" r="8.07" fill="none" stroke="#000000" stroke-width="4.75"/>
<circle cx="1628.6" cy="1567.0" r="8.07" fill="none" stroke="#000000" stroke-width="4.75"/>
<circle cx="1807.9" cy="1586.7" r="8.07" fill="none" stroke="#000000" stroke-width="4.75"/>
<circle cx="1785.8" cy="1645.6" r="8.07" fill="none" stroke="#000000" stroke-width="4.75"/>
<circle cx="1536.4" cy="1504.7" r="8.07" fill="none" stroke="#000000" stroke-width="4.75"/>
<circle cx="1611.6" cy="1518.8" r="8.07" fill="none" stroke="#000000" stroke-width="4.75"/>
<circle cx="1510.6" cy="1557.5" r="8.07" fill="none" stroke="#000000" stroke-width="4.75"/>
<circle cx="1530.5" cy="1561.1" r="8.07" fill="none" stroke="#000000" stroke-width="4.75"/>
<circle cx="1531.7" cy="1577.5" r="8.07" fill="none" stroke="#000000" stroke-width="4.75"/>
<circle cx="1548.2" cy="1584.6" r="8.07" fill="none" stroke="#000000" stroke-width="4.75"/>
<circle cx="1581.1" cy="1591.6" r="8.07" fill="none" stroke="#000000" stroke-width="4.75"/>
<circle cx="1502.3" cy="1589.3" r="8.07" fill="none" stroke="#000000" stroke-width="4.75"/>
<circle cx="1516.4" cy="1638.6" r="8.07" fill="none" stroke="#000000" stroke-width="4.75"/>
<circle cx="1556.4" cy="1631.5" r="8.07" fill="none" stroke="#000000" stroke-width="4.75"/>
<circle cx="1430.0" cy="1619.8" r="8.07" fill="none" stroke="#000000" stroke-width="4.75"/>
<circle cx="1460.8" cy="1706.6" r="8.07" fill="none" stroke="#000000" stroke-width="4.75"/>
<circle cx="1492.2" cy="1705.1" r="8.07" fill="none" stroke="#000000" stroke-width="4.75"/>
<circle cx="1479.1" cy="1589.0" r="8.07" fill="none" stroke="#000000" stroke-width="4.75"/>
<circle cx="1497.2" cy="1588.4" r="8.07" fill="none" stroke="#000000" stroke-width="4.75"/>
<circle cx="1488.8" cy="1601.0" r="8.07" fill="none" stroke="#000000" stroke-width="4.75"/>
<circle cx="1472.5" cy="1606.5" r="8.07" fill="none" stroke="#000000" stroke-width="4.75"/>
<circle cx="1464.0" cy="1619.1" r="8.07" fill="none" stroke="#000000" stroke-width="4.75"/>
<circle cx="1480.3" cy="1623.4" r="8.07" fill="none" stroke="#000000" stroke-width="4.75"/>
<circle cx="1495.4" cy="1626.4" r="8.07" fill="none" stroke="#000000" stroke-width="4.75"/>
<circle cx="1505.0" cy="1620.0" r="8.07" fill="none" stroke="#000000" stroke-width="4.75"/>
<circle cx="1431.0" cy="1652.0" r="8.07" fill="none" stroke="#000000" stroke-width="4.75"/>
<circle cx="1447.0" cy="1653.0" r="8.07" fill="none" stroke="#000000" stroke-width="4.75"/>
<circle cx="1463.0" cy="1652.0" r="8.07" fill="none" stroke="#000000" stroke-width="4.75"/>
<circle cx="1583.1" cy="1403.5" r="8.07" fill="none" stroke="#000000" stroke-width="4.75"/>
<circle cx="1606.9" cy="1541.7" r="5.5" fill="#FFDA6A"/>
<circle cx="1606.9" cy="1541.7" r="8.07" fill="none" stroke="#000000" stroke-width="4.75"/>
<circle cx="1550.5" cy="1564.0" r="5.5" fill="#FFDA6A"/>
<circle cx="1550.5" cy="1564.0" r="8.07" fill="none" stroke="#000000" stroke-width="4.75"/>
<circle cx="1831.2" cy="1505.6" r="5.5" fill="#FFDA6A"/>
<circle cx="1831.2" cy="1505.6" r="8.07" fill="none" stroke="#000000" stroke-width="4.75"/>
<rect x="1541.0" y="1498.6" width="25.0" height="21.6" rx="10.8" fill="#8B6BAE"/>
<rect x="1596.0" y="1498.6" width="25.0" height="21.6" rx="10.8" fill="#8B6BAE"/>
<polygon points="1393,1732 1398,1716 1404,1700 1412,1684 1418,1668 1422,1650 1440,1642 1458,1632 1470,1627 1485,1630 1496,1640 1499,1655 1492,1662 1500,1672 1508,1682 1508,1692 1500,1698 1470,1700 1445,1703 1436,1716 1428,1732" fill="#8B6BAE" stroke="#8B6BAE" stroke-width="3" stroke-linejoin="round"/>
<circle cx="1551.7" cy="1509.4" r="7.89" fill="none" stroke="#8B6BAE" stroke-width="4.56"/>
<circle cx="1556.4" cy="1509.4" r="7.89" fill="none" stroke="#8B6BAE" stroke-width="4.56"/>
<circle cx="1581.1" cy="1509.4" r="7.89" fill="none" stroke="#8B6BAE" stroke-width="4.56"/>
<circle cx="1605.7" cy="1509.4" r="7.89" fill="none" stroke="#8B6BAE" stroke-width="4.56"/>
<circle cx="1611.6" cy="1509.4" r="7.89" fill="none" stroke="#8B6BAE" stroke-width="4.56"/>
<circle cx="1628.0" cy="1509.4" r="7.89" fill="none" stroke="#8B6BAE" stroke-width="4.56"/>
<circle cx="1645.7" cy="1509.4" r="7.89" fill="none" stroke="#8B6BAE" stroke-width="4.56"/>
<circle cx="1737.9" cy="1510.5" r="7.89" fill="none" stroke="#8B6BAE" stroke-width="4.56"/>
<circle cx="1785.8" cy="1510.5" r="7.89" fill="none" stroke="#8B6BAE" stroke-width="4.56"/>
<circle cx="1806.7" cy="1510.5" r="7.89" fill="none" stroke="#8B6BAE" stroke-width="4.56"/>
<circle cx="1816.5" cy="1510.5" r="7.89" fill="none" stroke="#8B6BAE" stroke-width="4.56"/>
<circle cx="1831.2" cy="1510.5" r="7.89" fill="none" stroke="#8B6BAE" stroke-width="4.56"/>
<circle cx="1871.8" cy="1510.5" r="7.89" fill="none" stroke="#8B6BAE" stroke-width="4.56"/>
<circle cx="1530.5" cy="1611.6" r="7.89" fill="none" stroke="#8B6BAE" stroke-width="4.56"/>
<circle cx="1511.7" cy="1621.0" r="7.89" fill="none" stroke="#8B6BAE" stroke-width="4.56"/>
<circle cx="1516.4" cy="1670.3" r="7.89" fill="none" stroke="#8B6BAE" stroke-width="4.56"/>
<circle cx="1534.1" cy="1689.1" r="7.89" fill="none" stroke="#8B6BAE" stroke-width="4.56"/>
<circle cx="1549.3" cy="1689.1" r="7.89" fill="none" stroke="#8B6BAE" stroke-width="4.56"/>
<circle cx="1429" cy="1652.3" r="4" fill="#000"/>
<circle cx="1447" cy="1654" r="3.5" fill="#000"/>
<circle cx="1463" cy="1652" r="3.5" fill="#000"/>
<text x="1338.35" y="1734.70" font-size="46" letter-spacing="0.000">0</text>
<text x="1230.20" y="1524.57" font-size="46" letter-spacing="0.930">40,000</text>
<text x="1229.35" y="1314.43" font-size="46" letter-spacing="1.101">80,000</text>
<text x="1205.56" y="1104.30" font-size="46" letter-spacing="1.049">120,000</text>
<text x="1390.90" y="1792.30" font-size="46" letter-spacing="0.000">0</text>
<text x="1552.90" y="1792.30" font-size="46" letter-spacing="1.230">40,000</text>
<text x="1770.45" y="1792.30" font-size="46" letter-spacing="1.081">80,000</text>
<text x="1974.96" y="1792.30" font-size="46" letter-spacing="1.049">120,000</text>
<text x="1574.01" y="1859.10" font-size="46" letter-spacing="0.830">Observed (kg/s)</text>
<text transform="translate(1220.90,1536.33) rotate(-90)" x="0" y="0" font-size="46" letter-spacing="-1.098">Model1, (kg/s)</text>
<circle cx="1453.8" cy="1114.0" r="7.80" fill="none" stroke="#FDBA21" stroke-width="4.60"/>
<text x="1476.85" y="1126.00" font-size="46" letter-spacing="1.469">ANFIS</text>
<circle cx="1453.8" cy="1176.0" r="7.80" fill="none" stroke="#7CC65A" stroke-width="4.60"/>
<text x="1475.97" y="1190.40" font-size="46" letter-spacing="1.754">M5Tree</text>
<circle cx="1453.8" cy="1239.5" r="7.30" fill="none" stroke="#000000" stroke-width="5.60"/>
<text x="1475.97" y="1254.80" font-size="46" letter-spacing="2.297">MARS</text>
<circle cx="1453.8" cy="1301.5" r="7.80" fill="none" stroke="#8B6BAE" stroke-width="4.60"/>
<text x="1475.97" y="1316.80" font-size="46" letter-spacing="1.425">MARS-KM</text>
</g>
<g font-family="Liberation Serif, Times New Roman, serif" fill="#000" font-size="60">
<text x="479.3" y="961.5" letter-spacing="0">(<tspan font-weight="bold">a</tspan>)</text>
<text x="1623.8" y="961.5" letter-spacing="0">(<tspan font-weight="bold">b</tspan>)</text>
<text x="482.5" y="2009.6" letter-spacing="-2.0">(<tspan font-weight="bold">c</tspan>)</text>
<text x="1624.1" y="2009.4" letter-spacing="0">(<tspan font-weight="bold">d</tspan>)</text>
</g>
</svg>
</body></html>
